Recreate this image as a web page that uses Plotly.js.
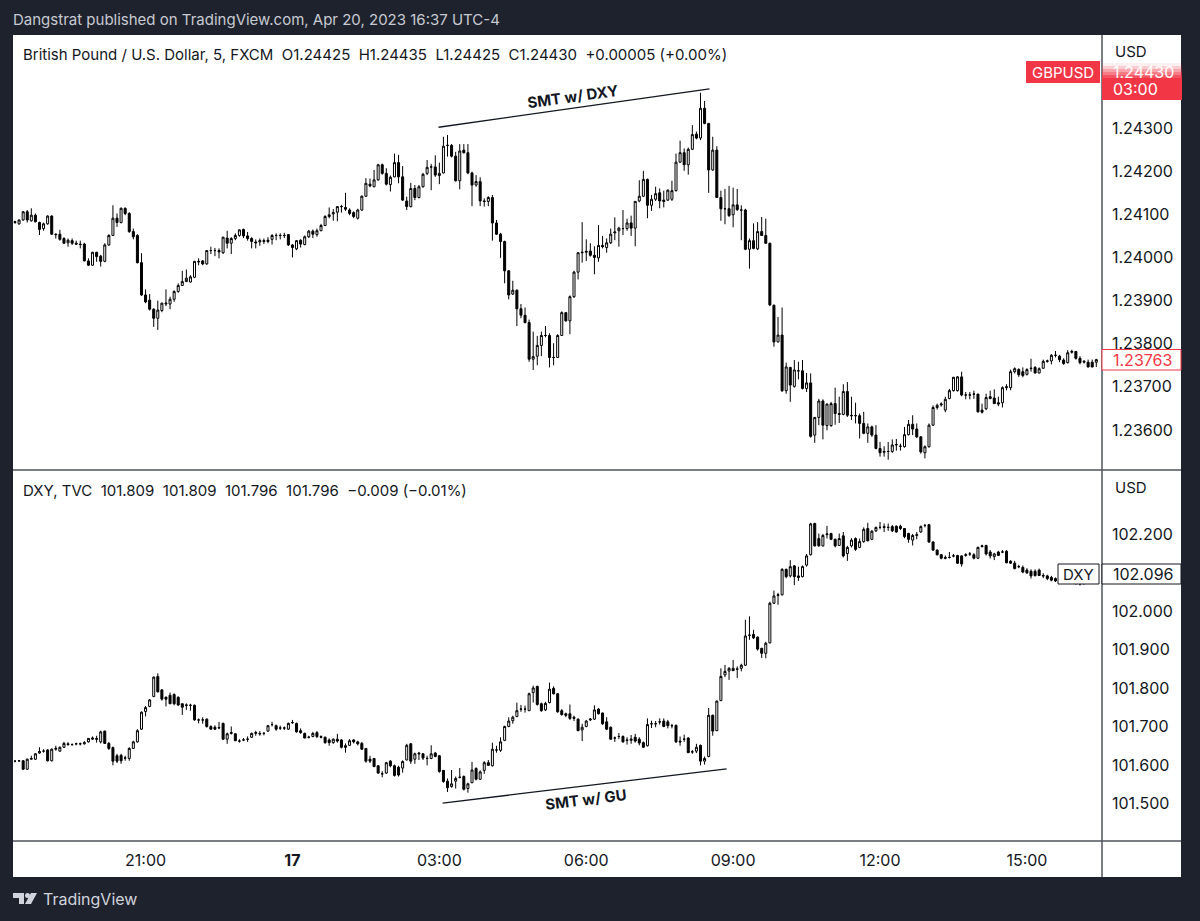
<!DOCTYPE html>
<html><head><meta charset="utf-8">
<script src="https://cdn.plot.ly/plotly-3.0.1.min.js"></script>
<style>html,body{margin:0;padding:0;background:#1e222d}</style></head>
<body><div id="chart" style="width:1200px;height:921px"></div>
<script>
const gbpOpen=[1.24081,1.24078,1.24087,1.24106,1.24085,1.24098,1.24081,1.24067,1.24078,1.24096,1.24054,1.24054,1.24044,1.24034,1.24039,1.24033,1.24031,1.24031,1.23992,1.23982,1.24012,1.24003,1.23991,1.24029,1.24051,1.24091,1.24081,1.24114,1.24102,1.24060,1.24051,1.23988,1.23913,1.23901,1.23880,1.23859,1.23877,1.23892,1.23892,1.23903,1.23921,1.23935,1.23944,1.23943,1.23954,1.23991,1.23992,1.23985,1.24016,1.24016,1.24016,1.24011,1.24045,1.24033,1.24044,1.24051,1.24065,1.24050,1.24044,1.24036,1.24036,1.24037,1.24037,1.24042,1.24051,1.24051,1.24051,1.24053,1.24029,1.24020,1.24040,1.24030,1.24048,1.24061,1.24053,1.24062,1.24074,1.24095,1.24101,1.24105,1.24118,1.24116,1.24110,1.24104,1.24091,1.24110,1.24142,1.24170,1.24164,1.24180,1.24215,1.24195,1.24169,1.24187,1.24220,
1.24187,1.24131,1.24118,1.24160,1.24139,1.24164,1.24195,1.24210,1.24210,1.24190,1.24196,1.24260,1.24260,1.24235,1.24178,1.24249,1.24243,1.24196,1.24168,1.24176,1.24131,1.24130,1.24139,1.24080,1.24054,1.24037,1.23969,1.23915,1.23924,1.23881,1.23866,1.23849,1.23764,1.23771,1.23796,1.23819,1.23819,1.23768,1.23768,1.23819,1.23872,1.23853,1.23909,1.23966,1.24011,1.24012,1.24015,1.24005,1.23999,1.24028,1.24023,1.24034,1.24057,1.24062,1.24067,1.24067,1.24080,1.24068,1.24131,1.24142,1.24181,1.24121,1.24135,1.24150,1.24133,1.24133,1.24135,1.24155,1.24221,1.24243,1.24215,1.24251,1.24286,1.24277,1.24346,1.24311,1.24203,1.24249,1.24139,1.24113,1.24113,1.24099,1.24122,1.24110,1.24110,1.24019,1.24039,1.24020,1.24060,1.24051,1.24033,1.23889,1.23804,
1.23820,1.23691,1.23745,1.23701,1.23737,1.23737,1.23696,1.23709,1.23588,1.23629,1.23667,1.23610,1.23610,1.23661,1.23638,1.23636,1.23689,1.23634,1.23633,1.23633,1.23615,1.23592,1.23607,1.23588,1.23557,1.23548,1.23550,1.23550,1.23565,1.23562,1.23561,1.23589,1.23613,1.23602,1.23584,1.23547,1.23561,1.23611,1.23652,1.23658,1.23646,1.23673,1.23691,1.23691,1.23723,1.23681,1.23681,1.23683,1.23683,1.23646,1.23649,1.23677,1.23674,1.23663,1.23663,1.23698,1.23698,1.23735,1.23740,1.23735,1.23729,1.23742,1.23745,1.23732,1.23743,1.23759,1.23760,1.23773,1.23771,1.23762,1.23756,1.23780,1.23782,1.23766,1.23757,1.23757,1.23757,1.23757];
const gbpClose=[1.24083,1.24087,1.24106,1.24087,1.24098,1.24083,1.24065,1.24078,1.24096,1.24054,1.24053,1.24042,1.24033,1.24040,1.24033,1.24031,1.24030,1.23992,1.23982,1.24012,1.24002,1.23991,1.24029,1.24051,1.24091,1.24081,1.24114,1.24102,1.24060,1.24048,1.23988,1.23913,1.23897,1.23880,1.23859,1.23878,1.23894,1.23894,1.23903,1.23921,1.23935,1.23944,1.23952,1.23955,1.23991,1.23990,1.23985,1.24016,1.24016,1.24016,1.24013,1.24047,1.24033,1.24044,1.24051,1.24064,1.24050,1.24044,1.24037,1.24034,1.24039,1.24039,1.24040,1.24051,1.24051,1.24051,1.24051,1.24029,1.24023,1.24039,1.24031,1.24048,1.24061,1.24054,1.24062,1.24074,1.24095,1.24099,1.24104,1.24118,1.24118,1.24112,1.24102,1.24095,1.24110,1.24142,1.24172,1.24166,1.24180,1.24215,1.24195,1.24170,1.24186,1.24220,1.24187,
1.24133,1.24118,1.24160,1.24139,1.24164,1.24193,1.24209,1.24210,1.24191,1.24195,1.24258,1.24260,1.24235,1.24178,1.24247,1.24243,1.24196,1.24168,1.24176,1.24131,1.24130,1.24139,1.24080,1.24054,1.24037,1.23969,1.23913,1.23924,1.23881,1.23866,1.23849,1.23764,1.23770,1.23796,1.23819,1.23819,1.23768,1.23768,1.23819,1.23872,1.23853,1.23909,1.23966,1.24011,1.24012,1.24014,1.24005,1.24000,1.24028,1.24025,1.24034,1.24054,1.24059,1.24068,1.24067,1.24080,1.24068,1.24130,1.24142,1.24181,1.24121,1.24135,1.24148,1.24131,1.24130,1.24156,1.24155,1.24221,1.24243,1.24215,1.24251,1.24285,1.24277,1.24346,1.24311,1.24203,1.24249,1.24139,1.24113,1.24113,1.24097,1.24122,1.24111,1.24110,1.24019,1.24039,1.24021,1.24060,1.24051,1.24033,1.23890,1.23804,1.23820,
1.23691,1.23746,1.23704,1.23739,1.23737,1.23696,1.23709,1.23585,1.23629,1.23667,1.23611,1.23660,1.23661,1.23638,1.23636,1.23689,1.23634,1.23633,1.23633,1.23615,1.23592,1.23607,1.23588,1.23557,1.23547,1.23550,1.23550,1.23565,1.23566,1.23562,1.23589,1.23613,1.23602,1.23584,1.23549,1.23561,1.23611,1.23652,1.23657,1.23660,1.23671,1.23691,1.23722,1.23723,1.23681,1.23681,1.23681,1.23683,1.23642,1.23641,1.23675,1.23673,1.23661,1.23660,1.23698,1.23700,1.23735,1.23742,1.23728,1.23726,1.23740,1.23743,1.23732,1.23742,1.23759,1.23760,1.23773,1.23773,1.23763,1.23754,1.23779,1.23782,1.23766,1.23756,1.23759,1.23746,1.23746,1.23763];
const gbpHigh=[1.24085,1.24088,1.24108,1.24110,1.24114,1.24102,1.24083,1.24081,1.24098,1.24098,1.24056,1.24064,1.24047,1.24044,1.24044,1.24039,1.24039,1.24034,1.23998,1.24013,1.24013,1.24006,1.24033,1.24054,1.24121,1.24102,1.24116,1.24116,1.24105,1.24067,1.24054,1.24010,1.23926,1.23915,1.23882,1.23900,1.23895,1.23926,1.23909,1.23924,1.23940,1.23969,1.23972,1.23959,1.23992,1.23998,1.23994,1.24017,1.24025,1.24022,1.24021,1.24048,1.24062,1.24047,1.24056,1.24065,1.24067,1.24059,1.24047,1.24042,1.24044,1.24044,1.24047,1.24054,1.24056,1.24056,1.24057,1.24054,1.24031,1.24040,1.24042,1.24051,1.24064,1.24065,1.24067,1.24078,1.24098,1.24116,1.24112,1.24119,1.24122,1.24150,1.24114,1.24107,1.24113,1.24144,1.24184,1.24183,1.24203,1.24217,1.24218,1.24207,1.24190,1.24241,1.24238,
1.24212,1.24141,1.24173,1.24168,1.24168,1.24196,1.24226,1.24217,1.24237,1.24220,1.24280,1.24284,1.24263,1.24245,1.24263,1.24263,1.24263,1.24199,1.24191,1.24186,1.24137,1.24142,1.24145,1.24087,1.24057,1.24039,1.23971,1.23946,1.23926,1.23892,1.23884,1.23856,1.23828,1.23818,1.23828,1.23841,1.23824,1.23801,1.23822,1.23875,1.23873,1.23912,1.23969,1.24012,1.24082,1.24042,1.24033,1.24026,1.24075,1.24050,1.24044,1.24067,1.24093,1.24071,1.24110,1.24090,1.24097,1.24131,1.24179,1.24201,1.24183,1.24145,1.24164,1.24160,1.24155,1.24158,1.24178,1.24241,1.24271,1.24253,1.24255,1.24307,1.24292,1.24382,1.24363,1.24312,1.24280,1.24258,1.24155,1.24159,1.24166,1.24162,1.24159,1.24121,1.24113,1.24044,1.24079,1.24082,1.24094,1.24090,1.24034,1.23891,1.23862,
1.23884,1.23756,1.23746,1.23762,1.23758,1.23762,1.23732,1.23731,1.23630,1.23672,1.23671,1.23661,1.23665,1.23698,1.23677,1.23706,1.23711,1.23677,1.23663,1.23638,1.23642,1.23615,1.23610,1.23611,1.23572,1.23562,1.23572,1.23578,1.23579,1.23568,1.23607,1.23623,1.23634,1.23615,1.23585,1.23564,1.23615,1.23657,1.23661,1.23664,1.23677,1.23695,1.23723,1.23725,1.23735,1.23688,1.23688,1.23691,1.23684,1.23661,1.23684,1.23691,1.23694,1.23677,1.23701,1.23706,1.23740,1.23745,1.23743,1.23745,1.23743,1.23765,1.23748,1.23745,1.23763,1.23763,1.23776,1.23783,1.23774,1.23766,1.23785,1.23786,1.23783,1.23771,1.23762,1.23763,1.23763,1.23765];
const gbpLow=[1.24078,1.24076,1.24085,1.24081,1.24083,1.24081,1.24052,1.24062,1.24076,1.24053,1.24044,1.24039,1.24031,1.24025,1.24029,1.24029,1.24021,1.23991,1.23980,1.23981,1.23990,1.23979,1.23989,1.24027,1.24050,1.24071,1.24079,1.24098,1.24057,1.24042,1.23986,1.23911,1.23894,1.23877,1.23839,1.23832,1.23873,1.23887,1.23880,1.23897,1.23918,1.23934,1.23948,1.23942,1.23952,1.23982,1.23982,1.23983,1.24008,1.24003,1.23998,1.24008,1.24021,1.24008,1.24040,1.24048,1.24045,1.24039,1.24021,1.24021,1.24027,1.24031,1.24033,1.24030,1.24040,1.24042,1.24045,1.24027,1.24000,1.24017,1.24023,1.24028,1.24045,1.24045,1.24048,1.24061,1.24073,1.24091,1.24085,1.24084,1.24104,1.24108,1.24098,1.24091,1.24088,1.24108,1.24141,1.24163,1.24163,1.24178,1.24192,1.24167,1.24153,1.24186,1.24172,
1.24131,1.24110,1.24116,1.24133,1.24137,1.24162,1.24191,1.24156,1.24187,1.24170,1.24195,1.24234,1.24232,1.24176,1.24158,1.24241,1.24193,1.24119,1.24164,1.24119,1.24118,1.24119,1.24039,1.24052,1.23999,1.23940,1.23903,1.23913,1.23841,1.23859,1.23847,1.23758,1.23739,1.23750,1.23771,1.23815,1.23745,1.23750,1.23767,1.23818,1.23851,1.23822,1.23906,1.23949,1.23988,1.23992,1.24002,1.23961,1.23990,1.24021,1.24011,1.24031,1.24040,1.24025,1.24052,1.24062,1.24050,1.24026,1.24128,1.24141,1.24091,1.24108,1.24131,1.24114,1.24116,1.24131,1.24131,1.24153,1.24220,1.24201,1.24192,1.24249,1.24274,1.24272,1.24309,1.24150,1.24201,1.24138,1.24085,1.24077,1.24094,1.24070,1.24108,1.24040,1.24017,1.23974,1.24019,1.24017,1.24050,1.24031,1.23887,1.23793,1.23803,
1.23688,1.23684,1.23665,1.23698,1.23717,1.23694,1.23688,1.23582,1.23570,1.23611,1.23578,1.23599,1.23607,1.23612,1.23616,1.23634,1.23630,1.23623,1.23615,1.23580,1.23590,1.23570,1.23584,1.23555,1.23538,1.23538,1.23531,1.23547,1.23552,1.23552,1.23559,1.23587,1.23588,1.23581,1.23545,1.23534,1.23559,1.23609,1.23647,1.23654,1.23641,1.23671,1.23689,1.23689,1.23678,1.23671,1.23671,1.23672,1.23640,1.23638,1.23646,1.23671,1.23660,1.23655,1.23652,1.23692,1.23692,1.23731,1.23723,1.23722,1.23726,1.23735,1.23731,1.23731,1.23742,1.23756,1.23752,1.23768,1.23757,1.23751,1.23754,1.23777,1.23763,1.23752,1.23754,1.23745,1.23745,1.23746];

const dxyOpen=[101.610,101.611,101.611,101.589,101.615,101.615,101.631,101.636,101.639,101.611,101.641,101.636,101.646,101.655,101.653,101.655,101.655,101.655,101.660,101.667,101.669,101.660,101.688,101.656,101.645,101.624,101.625,101.618,101.617,101.643,101.660,101.693,101.739,101.752,101.778,101.830,101.795,101.776,101.781,101.783,101.776,101.759,101.756,101.755,101.755,101.717,101.717,101.719,101.700,101.698,101.696,101.708,101.667,101.682,101.681,101.662,101.665,101.667,101.672,101.682,101.682,101.682,101.688,101.705,101.702,101.696,101.696,101.693,101.710,101.708,101.689,101.682,101.672,101.674,101.684,101.674,101.672,101.665,101.658,101.667,101.665,101.650,101.651,101.665,101.660,101.656,101.643,101.615,101.617,101.598,101.577,101.579,101.610,101.598,101.594,
101.592,101.613,101.655,101.615,101.631,101.629,101.617,101.617,101.631,101.624,101.586,101.558,101.544,101.558,101.568,101.570,101.539,101.554,101.591,101.563,101.586,101.606,101.598,101.639,101.638,101.664,101.700,101.715,101.726,101.745,101.745,101.741,101.788,101.804,101.759,101.743,101.762,101.799,101.785,101.741,101.733,101.733,101.724,101.719,101.691,101.700,101.717,101.719,101.745,101.735,101.712,101.698,101.670,101.674,101.674,101.665,101.664,101.672,101.667,101.658,101.650,101.707,101.707,101.712,101.714,101.712,101.702,101.703,101.662,101.667,101.670,101.634,101.636,101.651,101.610,101.622,101.729,101.689,101.767,101.834,101.844,101.851,101.849,101.851,101.859,101.937,101.939,101.932,101.903,101.890,
101.917,102.020,102.040,102.042,102.108,102.091,102.117,102.091,102.089,102.119,102.146,102.227,102.188,102.169,102.198,102.201,102.186,102.170,102.195,102.149,102.169,102.188,102.165,102.180,102.214,102.186,102.208,102.217,102.219,102.217,102.219,102.220,102.220,102.214,102.201,102.184,102.196,102.205,102.222,102.224,102.179,102.158,102.146,102.139,102.139,102.143,102.144,102.143,102.144,102.148,102.146,102.137,102.167,102.170,102.153,102.141,102.153,102.153,102.155,102.129,102.124,102.115,102.113,102.106,102.103,102.103,102.106,102.092,102.091,102.087,102.084,102.080,102.078,102.077,102.076,102.075,102.075,102.075,102.073,102.072,102.090];
const dxyClose=[101.610,101.611,101.589,101.615,101.617,101.629,101.635,101.636,101.611,101.641,101.643,101.646,101.656,101.653,101.653,101.655,101.655,101.658,101.669,101.670,101.667,101.686,101.656,101.643,101.610,101.610,101.611,101.618,101.643,101.660,101.689,101.737,101.749,101.769,101.828,101.790,101.771,101.771,101.759,101.759,101.756,101.750,101.755,101.755,101.717,101.717,101.717,101.700,101.693,101.693,101.697,101.667,101.681,101.684,101.663,101.662,101.665,101.667,101.682,101.684,101.681,101.682,101.702,101.705,101.693,101.696,101.696,101.708,101.710,101.686,101.684,101.670,101.672,101.682,101.674,101.672,101.658,101.658,101.667,101.662,101.646,101.646,101.663,101.660,101.655,101.641,101.610,101.610,101.596,101.579,101.577,101.606,101.598,101.573,101.574,
101.609,101.651,101.610,101.629,101.629,101.618,101.617,101.629,101.622,101.583,101.557,101.541,101.551,101.565,101.568,101.537,101.551,101.587,101.563,101.582,101.606,101.599,101.641,101.639,101.660,101.700,101.714,101.724,101.741,101.745,101.745,101.785,101.800,101.757,101.741,101.760,101.797,101.785,101.738,101.731,101.729,101.721,101.721,101.689,101.698,101.714,101.719,101.743,101.733,101.707,101.693,101.667,101.670,101.674,101.660,101.664,101.667,101.662,101.657,101.646,101.705,101.707,101.707,101.712,101.700,101.702,101.702,101.660,101.660,101.667,101.632,101.634,101.646,101.610,101.617,101.729,101.688,101.766,101.830,101.843,101.851,101.845,101.849,101.859,101.935,101.937,101.930,101.901,101.890,101.916,
102.020,102.039,102.042,102.108,102.089,102.115,102.089,102.087,102.115,102.143,102.226,102.169,102.169,102.196,102.200,102.186,102.169,102.188,102.143,102.165,102.184,102.160,102.180,102.212,102.182,102.207,102.217,102.217,102.217,102.217,102.208,102.205,102.214,102.193,102.186,102.196,102.198,102.219,102.222,102.179,102.158,102.146,102.137,102.137,102.139,102.143,102.124,102.122,102.146,102.148,102.137,102.165,102.169,102.148,102.143,102.148,102.144,102.153,102.125,102.124,102.110,102.115,102.101,102.099,102.091,102.092,102.092,102.091,102.084,102.080,102.078,102.077,102.075,102.073,102.073,102.072,102.070,102.072,102.075,102.082,102.096];
const dxyHigh=[101.611,101.613,101.613,101.617,101.624,101.631,101.646,101.641,101.641,101.643,101.650,101.648,101.660,101.659,101.656,101.658,101.658,101.662,101.670,101.674,101.676,101.689,101.689,101.660,101.648,101.629,101.629,101.624,101.646,101.663,101.693,101.739,101.753,101.771,101.830,101.838,101.797,101.778,101.788,101.786,101.778,101.760,101.760,101.759,101.757,101.721,101.724,101.721,101.703,101.703,101.712,101.710,101.684,101.700,101.682,101.667,101.670,101.674,101.684,101.689,101.688,101.686,101.704,101.712,101.705,101.702,101.700,101.710,101.717,101.710,101.695,101.684,101.676,101.686,101.688,101.677,101.674,101.669,101.669,101.681,101.667,101.656,101.667,101.667,101.663,101.660,101.644,101.624,101.618,101.599,101.584,101.608,101.613,101.601,101.598,
101.612,101.655,101.657,101.632,101.634,101.631,101.624,101.651,101.634,101.626,101.587,101.565,101.587,101.570,101.592,101.573,101.554,101.608,101.594,101.586,101.610,101.613,101.658,101.650,101.672,101.702,101.724,101.728,101.762,101.756,101.754,101.788,101.806,101.806,101.762,101.764,101.814,101.804,101.786,101.745,101.736,101.757,101.728,101.721,101.707,101.717,101.722,101.755,101.748,101.736,101.724,101.700,101.674,101.683,101.677,101.672,101.678,101.681,101.672,101.661,101.721,101.715,101.714,101.721,101.721,101.717,101.707,101.705,101.674,101.679,101.672,101.639,101.655,101.653,101.622,101.748,101.731,101.767,101.851,101.860,101.854,101.873,101.856,101.863,101.977,101.986,101.951,101.934,101.904,101.920,
102.024,102.053,102.047,102.111,102.110,102.132,102.119,102.115,102.118,102.148,102.229,102.229,102.201,102.200,102.221,102.203,102.188,102.201,102.205,102.169,102.189,102.191,102.188,102.217,102.229,102.210,102.219,102.231,102.227,102.227,102.223,102.222,102.224,102.215,102.203,102.200,102.205,102.222,102.226,102.226,102.181,102.160,102.148,102.144,102.153,102.148,102.146,102.144,102.150,102.153,102.150,102.167,102.172,102.172,102.158,102.151,102.156,102.158,102.158,102.132,102.130,102.120,102.118,102.111,102.108,102.108,102.110,102.098,102.094,102.091,102.087,102.084,102.082,102.080,102.080,102.078,102.080,102.080,102.080,102.085,102.099];
const dxyLow=[101.607,101.608,101.587,101.587,101.613,101.613,101.629,101.632,101.609,101.609,101.637,101.634,101.644,101.650,101.650,101.651,101.651,101.653,101.658,101.665,101.658,101.656,101.655,101.639,101.599,101.605,101.603,101.611,101.611,101.642,101.658,101.691,101.726,101.750,101.776,101.788,101.767,101.752,101.758,101.755,101.753,101.730,101.743,101.741,101.715,101.708,101.707,101.697,101.691,101.691,101.693,101.665,101.655,101.679,101.662,101.658,101.662,101.660,101.670,101.676,101.676,101.677,101.686,101.700,101.689,101.691,101.691,101.691,101.707,101.684,101.681,101.669,101.669,101.672,101.670,101.669,101.655,101.650,101.655,101.658,101.643,101.632,101.650,101.656,101.651,101.639,101.606,101.605,101.594,101.577,101.568,101.577,101.594,101.570,101.570,
101.580,101.612,101.603,101.603,101.613,101.613,101.599,101.615,101.620,101.580,101.554,101.530,101.541,101.539,101.565,101.534,101.528,101.553,101.560,101.561,101.577,101.598,101.596,101.632,101.634,101.662,101.698,101.707,101.724,101.738,101.736,101.740,101.762,101.754,101.738,101.740,101.760,101.783,101.736,101.728,101.724,101.717,101.714,101.688,101.662,101.698,101.714,101.717,101.731,101.704,101.691,101.665,101.660,101.667,101.658,101.653,101.655,101.658,101.651,101.644,101.648,101.696,101.698,101.705,101.698,101.695,101.695,101.657,101.650,101.660,101.631,101.629,101.631,101.599,101.601,101.620,101.676,101.688,101.766,101.828,101.821,101.844,101.826,101.843,101.857,101.925,101.927,101.897,101.878,101.877,
101.916,102.018,102.016,102.040,102.085,102.087,102.067,102.078,102.087,102.115,102.144,102.167,102.167,102.167,102.188,102.184,102.165,102.169,102.139,102.130,102.165,102.156,102.163,102.177,102.181,102.184,102.205,102.212,102.205,102.208,102.205,102.203,102.210,102.189,102.177,102.170,102.186,102.203,102.217,102.177,102.156,102.144,102.134,102.134,102.136,102.139,102.122,102.115,102.141,102.143,102.134,102.135,102.165,102.144,102.136,102.132,102.143,102.150,102.124,102.122,102.108,102.111,102.098,102.096,102.084,102.089,102.091,102.085,102.080,102.077,102.075,102.073,102.072,102.070,102.070,102.068,102.066,102.068,102.070,102.070,102.088];

const barMinutes=5;
const xTickTimes=['2023-04-16 21:00','2023-04-17 00:00','2023-04-17 03:00','2023-04-17 06:00','2023-04-17 09:00','2023-04-17 12:00','2023-04-17 15:00'];
const xTickLabels=['21:00','<b>17</b>','03:00','06:00','09:00','12:00','15:00'];
const gbpTicks=[1.243,1.242,1.241,1.240,1.239,1.238,1.237,1.236];
const dxyTicks=[102.2,102.0,101.9,101.8,101.7,101.6,101.5];
const smtGbpTimes=['2023-04-17 02:59','2023-04-17 08:31'];
const smtGbpLevels=[1.24302,1.24391];
const smtDxyTimes=['2023-04-17 03:04','2023-04-17 08:52'];
const smtDxyLevels=[101.501,101.590];

function pad(n){return String(n).padStart(2,'0');}
function timeAt(i){
  const t=new Date(Date.UTC(2023,3,16,18,20)+i*barMinutes*60000);
  return t.getUTCFullYear()+'-'+pad(t.getUTCMonth()+1)+'-'+pad(t.getUTCDate())+' '+pad(t.getUTCHours())+':'+pad(t.getUTCMinutes());
}
function timeAtFloat(i){
  const t=new Date(Date.UTC(2023,3,16,18,20)+i*barMinutes*60000);
  return t.toISOString().replace('T',' ').replace('Z','');
}
const PX=x=>x/1200, PY=y=>1-y/921;
const FONT='Inter, "Noto Sans", sans-serif', INK='#131722', RED='#f23645', DARK='#1e222d', RULE='#50535e', PALE='#d1d4dc';
const bar=(o,h,l,c,ya)=>({type:'candlestick',x:o.map((_,i)=>timeAt(i)),open:o,high:h,low:l,close:c,xaxis:'x',yaxis:ya,
  increasing:{line:{color:'#000',width:1},fillcolor:'#fff'},decreasing:{line:{color:'#000',width:1},fillcolor:'#000'},whiskerwidth:0,hoverinfo:'skip'});
const traces=[bar(gbpOpen,gbpHigh,gbpLow,gbpClose,'y'),bar(dxyOpen,dxyHigh,dxyLow,dxyClose,'y2')];

function rect(x0,y0,x1,y1,fill,line,opacity){return {type:'rect',xref:'paper',yref:'paper',x0:PX(x0),x1:PX(x1),y0:PY(y0),y1:PY(y1),fillcolor:fill,opacity:opacity===undefined?1:opacity,line:{color:line||fill,width:line?1:0},layer:'above'};}
const shapes=[
 Object.assign(rect(13,35,1181,877,'#ffffff'),{layer:'below'}),
 {type:'line',xref:'paper',yref:'paper',x0:PX(13),x1:PX(1181),y0:PY(470),y1:PY(470),line:{color:RULE,width:1.5},layer:'above'},
 {type:'line',xref:'paper',yref:'paper',x0:PX(13),x1:PX(1181),y0:PY(841),y1:PY(841),line:{color:RULE,width:1.5},layer:'above'},
 {type:'line',xref:'paper',yref:'paper',x0:PX(1102),x1:PX(1102),y0:PY(35),y1:PY(877),line:{color:RULE,width:1.5},layer:'above'},
 {type:'line',xref:'x',yref:'y',x0:smtGbpTimes[0],x1:smtGbpTimes[1],y0:smtGbpLevels[0],y1:smtGbpLevels[1],line:{color:'#131722',width:1.3}},
 {type:'line',xref:'x',yref:'y2',x0:smtDxyTimes[0],x1:smtDxyTimes[1],y0:smtDxyLevels[0],y1:smtDxyLevels[1],line:{color:'#131722',width:1.3}},
 rect(1026,61,1100,83,RED),
 rect(1102,78,1182,100,RED),
 rect(1102,75,1182,78,RED,null,0.85),
 rect(1102,72,1182,75,RED,null,0.65),
 rect(1102,69,1182,72,RED,null,0.45),
 rect(1102,66,1182,69,RED,null,0.25),
 rect(1102,63,1182,66,RED,null,0.08),
 rect(1102,349.5,1181,370,'#ffffff',RED),
 rect(1058,564,1099,584,'#ffffff','#131722'),
 rect(1102,564,1181,584,'#ffffff','#131722'),
 {type:'path',xref:'paper',yref:'paper',layer:'above',fillcolor:PALE,line:{width:0},
  path:`M ${PX(13)} ${PY(893)} L ${PX(24)} ${PY(893)} L ${PX(24)} ${PY(904)} L ${PX(19)} ${PY(904)} L ${PX(19)} ${PY(898)} L ${PX(13)} ${PY(898)} Z`},
 {type:'path',xref:'paper',yref:'paper',layer:'above',fillcolor:PALE,line:{width:0},
  path:`M ${PX(31)} ${PY(893)} L ${PX(37)} ${PY(893)} L ${PX(31)} ${PY(904)} L ${PX(25)} ${PY(904)} Z`},
 {type:'circle',xref:'paper',yref:'paper',layer:'above',fillcolor:PALE,line:{width:0},x0:PX(25),x1:PX(30),y0:PY(898),y1:PY(893)}
];
function note(text,x,y,opt){return Object.assign({text:text,xref:'paper',yref:'paper',x:PX(x),y:PY(y),xanchor:'left',yanchor:'middle',showarrow:false,align:'left',font:{family:FONT,size:15,color:INK}},opt||{});}
const S='\u00a0\u00a0';
const annotations=[
 note('Dangstrat published on TradingView.com, Apr 20, 2023 16:37 UTC-4',11,19,{font:{family:FONT,size:15,color:'#c8cad2'}}),
 note('British Pound / U.S. Dollar, 5, FXCM'+S+'O1.24425'+S+'H1.24435'+S+'L1.24425'+S+'C1.24430'+S+'+0.00005 (+0.00%)',21,54),
 note('DXY, TVC'+S+'101.809'+S+'101.809'+S+'101.796'+S+'101.796'+S+'\u22120.009 (\u22120.01%)',21,490.5),
 note('USD',1113,51),
 note('USD',1113,487),
 note('GBPUSD',1063,72,{xanchor:'center',font:{family:FONT,size:15,color:'#fff'}}),
 note('1.24430',1111,72,{font:{family:FONT,size:16,color:'#fff'}}),
 note('03:00',1111,89,{font:{family:FONT,size:16,color:'#fff'}}),
 note('1.23763',1111,360,{font:{family:FONT,size:16,color:RED}}),
 note('DXY',1078.5,574,{xanchor:'center'}),
 note('102.096',1111,574,{font:{family:FONT,size:16,color:INK}}),
 note('<b>SMT w/ DXY</b>',573,96,{xanchor:'center',textangle:-8,font:{family:FONT,size:15,color:INK}}),
 note('<b>SMT w/ GU</b>',586,799,{xanchor:'center',textangle:-7,font:{family:FONT,size:15,color:INK}}),
 note('TradingView',41,899,{font:{family:FONT,size:16,color:PALE}})
];
const pxStart=timeAtFloat(-0.49), pxEnd=timeAtFloat(266.4);
const yStyle={side:'right',showgrid:false,zeroline:false,ticks:'',tickmode:'array',showline:false,tickfont:{family:FONT,size:16,color:INK},ticklabelstandoff:9,fixedrange:true};
const layout={width:1200,height:921,margin:{l:0,r:0,t:0,b:0},paper_bgcolor:DARK,plot_bgcolor:'#ffffff',showlegend:false,dragmode:false,
 xaxis:{domain:[PX(13),PX(1102)],anchor:'y2',type:'date',range:[pxStart,pxEnd],rangeslider:{visible:false},showgrid:false,zeroline:false,showline:false,ticks:'',tickmode:'array',tickvals:xTickTimes,ticktext:xTickLabels,tickfont:{family:FONT,size:16,color:INK},ticklabelstandoff:8},
 yaxis:Object.assign({},yStyle,{domain:[PY(470),PY(35)],anchor:'x',range:[1.23507,1.24516],tickvals:gbpTicks,tickformat:'.5f'}),
 yaxis2:Object.assign({},yStyle,{domain:[PY(841),PY(470)],anchor:'x',range:[101.4026,102.366],tickvals:dxyTicks,tickformat:'.3f'}),
 shapes:shapes,annotations:annotations};
Plotly.newPlot('chart',traces,layout,{displayModeBar:false,staticPlot:true});
</script></body></html>
